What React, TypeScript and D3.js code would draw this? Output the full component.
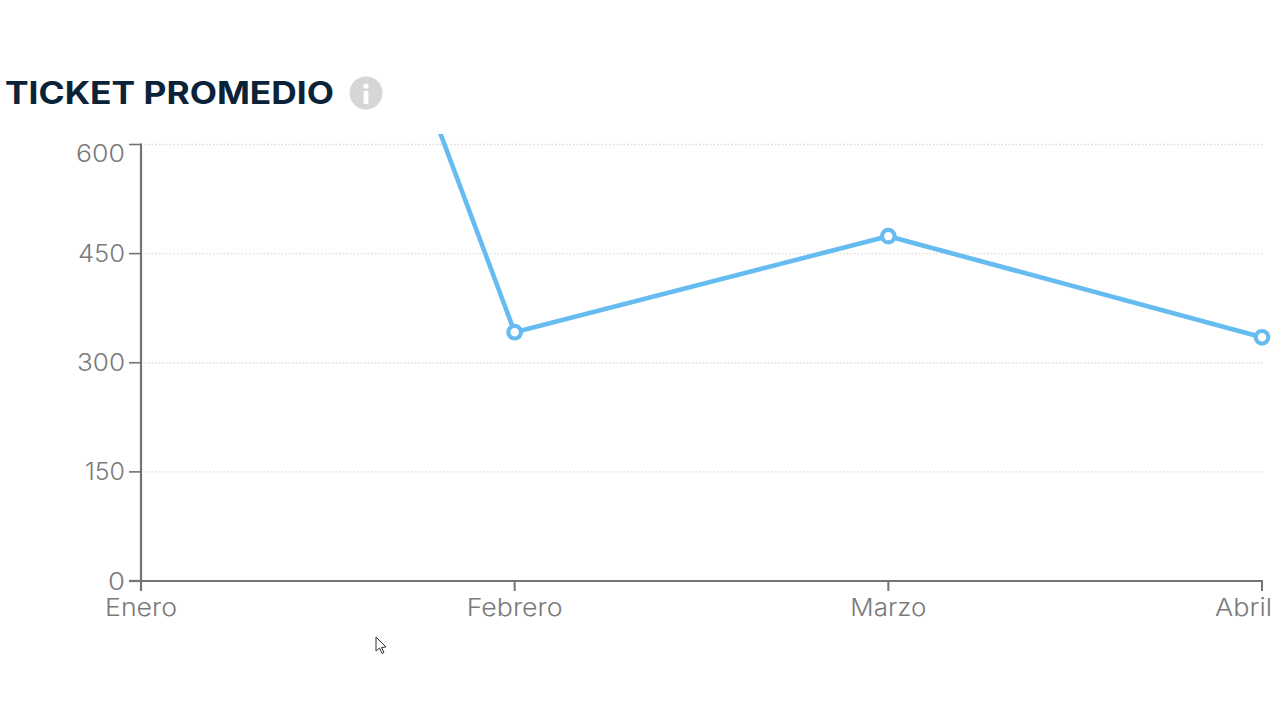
import React from "react";
import * as d3 from "d3";

const months = ["Enero", "Febrero", "Marzo", "Abril"];
const ticket = [1716, 342, 474, 335];
const yTicks = [0, 150, 300, 450, 600];
const title = "TICKET PROMEDIO";

const W = 1280, H = 720;
const x = d3.scalePoint<string>().domain(months).range([141, 1262]);
const y = d3.scaleLinear().domain([0, 600]).range([581, 144.5]);
const line = d3.line<number>().x((_, i) => x(months[i]) as number).y((d) => y(d));
const FONT = "Inter, Lato, 'Noto Sans', sans-serif";
const AXIS = "#747474";
const LABEL = "#7a7a7a";
const BLUE = "#66bbf0";
const monthWidth: Record<string, number> = { Enero: 72, Febrero: 96, Marzo: 76, Abril: 57 };
const valueWidth: Record<number, number> = { 0: 17, 150: 40, 300: 48, 450: 47, 600: 49 };

export default function App() {
  return (
    <svg width={W} height={H} viewBox={`0 0 ${W} ${H}`} style={{ position: "fixed", left: 0, top: 0, background: "#fff" }}>
      <defs>
        <clipPath id="plot"><rect x={130} y={134} width={1150} height={470} /></clipPath>
      </defs>
      <text x={5} y={103.5} fontFamily={FONT} fontWeight={700} fontSize={31} fill="#0a2338" textLength={329} lengthAdjust="spacingAndGlyphs">{title}</text>
      <circle cx={366} cy={93} r={16.5} fill="#d6d5d7" />
      <circle cx={366} cy={86} r={2.6} fill="#fff" />
      <rect x={363.6} y={91} width={4.8} height={13} fill="#fff" />

      {yTicks.filter((t) => t > 0).map((t) => (
        <line key={t} x1={141} x2={1262} y1={y(t)} y2={y(t)} stroke="#dcdcdc" strokeWidth={1.3} strokeDasharray="1.6 2" />
      ))}
      <line x1={141} x2={141} y1={y(600) - 1} y2={591} stroke={AXIS} strokeWidth={2.2} />
      <line x1={129} x2={1263} y1={y(0)} y2={y(0)} stroke={AXIS} strokeWidth={2.2} />
      {yTicks.map((t) => (
        <g key={t}>
          <line x1={129} x2={141} y1={y(t)} y2={y(t)} stroke={AXIS} strokeWidth={t === 0 ? 2.2 : 1.6} />
          <text x={125} y={(t === 600 ? y(t) + 8.5 : y(t)) + 8.5} textAnchor="end" fontFamily={FONT} fontWeight={300} fontSize={24} fill={LABEL} textLength={valueWidth[t]} lengthAdjust="spacingAndGlyphs">{t}</text>
        </g>
      ))}
      {months.map((m, i) => (
        <g key={m}>
          <line x1={x(m)} x2={x(m)} y1={581} y2={591} stroke={AXIS} strokeWidth={2} />
          <text x={i === 3 ? 1272 : (x(m) as number)} y={616} textAnchor={i === 3 ? "end" : "middle"} fontFamily={FONT} fontWeight={300} fontSize={24} fill={LABEL} textLength={monthWidth[m]} lengthAdjust="spacingAndGlyphs">{m}</text>
        </g>
      ))}

      <g clipPath="url(#plot)">
        <path d={line(ticket) as string} fill="none" stroke={BLUE} strokeWidth={4.6} />
        {ticket.map((v, i) => (
          <circle key={months[i]} cx={x(months[i])} cy={y(v)} r={6.3} fill="#fff" stroke={BLUE} strokeWidth={4.2} />
        ))}
      </g>

      <path d="M376 637 L376 651 L379.5 648 L382 653.5 L384 652.5 L381.5 647.5 L386 647 Z" fill="#fff" stroke="#333" strokeWidth={1} />
    </svg>
  );
}
